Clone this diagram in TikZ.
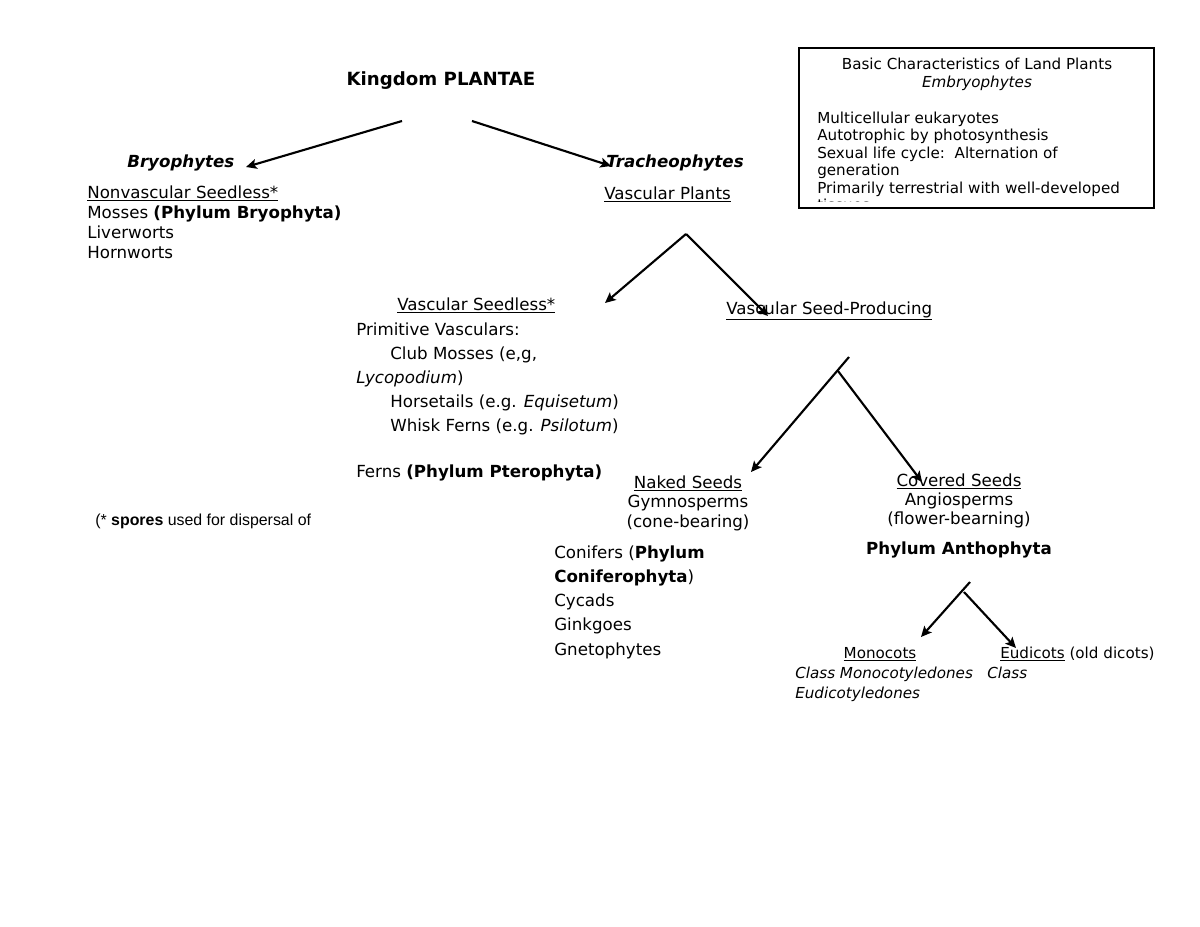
\documentclass[tikz,border=0pt]{standalone}
\usepackage{fontspec}
\setmainfont{DejaVu Sans}
\newfontfamily\notefont{Liberation Sans}
\usetikzlibrary{arrows.meta}

\begin{document}
\begin{tikzpicture}[x=0.66pt, y=-0.66pt,
  txt/.style={anchor=mid west, inner sep=0pt, yshift=-1.3pt, font=\fontsize{11}{13}\selectfont},
  ctxt/.style={anchor=mid, inner sep=0pt, yshift=-1.3pt, font=\fontsize{11}{13}\selectfont},
  small/.style={anchor=mid west, inner sep=0pt, yshift=-1.3pt, font=\fontsize{10}{12}\selectfont},
  csmall/.style={anchor=mid, inner sep=0pt, yshift=-1.3pt, font=\fontsize{10}{12}\selectfont},
  branch/.style={line width=1.4pt, -{Stealth[length=7pt, width=6.5pt, inset=1.5pt]}}]
  \useasboundingbox (0,0) rectangle (1200,927);

  % Kingdom and first split
  \node[ctxt, font=\fontsize{12}{14}\selectfont\bfseries] (kingdom) at (441,79) {Kingdom PLANTAE};
  \node[txt, font=\fontsize{11}{13}\selectfont\bfseries\itshape] (bryo) at (127,161) {Bryophytes};
  \node[txt, font=\fontsize{11}{13}\selectfont\bfseries\itshape] (trach) at (606,161) {Tracheophytes};
  \coordinate (kL) at (402,121);
  \coordinate (kR) at (472,121);
  \coordinate (bryoTip) at (246,167);
  \coordinate (trachTip) at (611,166);
  \draw[branch] (kL) -- (bryoTip);
  \draw[branch] (kR) -- (trachTip);

  % Bryophytes
  \node[txt] (nonvasc) at (87,192) {\underline{Nonvascular Seedless*}};
  \node[txt] (mosses) at (87,212) {Mosses \textbf{(Phylum Bryophyta)}};
  \node[txt] (liver) at (87,232) {Liverworts};
  \node[txt] (horn) at (87,252) {Hornworts};

  % Tracheophytes
  \node[txt] (vascPl) at (604,193) {\underline{Vascular Plants}};
  \coordinate (vSplit) at (686,234);
  \coordinate (seedlessTip) at (605,303);
  \coordinate (seedTip) at (768,316);
  \draw[branch] (vSplit) -- (seedlessTip);
  \draw[branch] (vSplit) -- (seedTip);

  % Vascular seedless
  \node[txt] (vSeedless) at (397,304) {\underline{Vascular Seedless*}};
  \node[txt] (primitive) at (356,329) {Primitive Vasculars:};
  \node[txt] (club) at (390,353) {Club Mosses (e,g,};
  \node[txt] (lyco) at (356,377) {\textit{Lycopodium})};
  \node[txt] (horse) at (390,401) {Horsetails (e.g. \textit{Equisetum})};
  \node[txt] (whisk) at (390,425) {Whisk Ferns (e.g. \textit{Psilotum})};
  \node[txt] (ferns) at (356,471) {Ferns \textbf{(Phylum Pterophyta)}};

  % Vascular seed-producing
  \node[txt] (vSeed) at (726,308) {\underline{Vascular Seed-Producing}};
  \coordinate (sTop) at (849,357);
  \coordinate (sSplit) at (838,371);
  \coordinate (nakedTip) at (751,472);
  \coordinate (coveredTip) at (922,482);
  \draw[branch] (sTop) -- (nakedTip);
  \draw[branch] (sSplit) -- (coveredTip);

  % Naked seeds
  \node[ctxt] (naked) at (688,482) {\underline{Naked Seeds}};
  \node[ctxt] (gymno) at (688,501) {Gymnosperms};
  \node[ctxt] (cone) at (688,521) {(cone-bearing)};
  \node[txt] (conif) at (554,552) {Conifers (\textbf{Phylum}};
  \node[txt] (conif2) at (554,576) {\textbf{Coniferophyta})};
  \node[txt] (cycad) at (554,600) {Cycads};
  \node[txt] (ginkgo) at (554,624) {Ginkgoes};
  \node[txt] (gneto) at (554,649) {Gnetophytes};

  % Covered seeds
  \node[ctxt] (covered) at (959,480) {\underline{Covered Seeds}};
  \node[ctxt] (angio) at (959,499) {Angiosperms};
  \node[ctxt] (flower) at (959,518) {(flower-bearning)};
  \node[ctxt, font=\fontsize{11}{13}\selectfont\bfseries] (antho) at (959,548) {Phylum Anthophyta};
  \coordinate (aTop) at (970,582);
  \coordinate (aSplit) at (964,592);
  \coordinate (monoTip) at (921,637);
  \coordinate (eudiTip) at (1016,648);
  \draw[branch] (aTop) -- (monoTip);
  \draw[branch] (aSplit) -- (eudiTip);

  % Monocots and eudicots
  \node[csmall] (mono) at (880,652) {\underline{Monocots}};
  \node[small] (eudi) at (1000,652) {\underline{Eudicots} (old dicots)};
  \node[small, font=\fontsize{10}{12}\selectfont\itshape] (monoCls) at (795,672) {Class Monocotyledones};
  \node[small, font=\fontsize{10}{12}\selectfont\itshape] (eudiCls) at (987,672) {Class};
  \node[small, font=\fontsize{10}{12}\selectfont\itshape] (eudiCls2) at (795,692) {Eudicotyledones};

  % Footnote
  \node[small, font=\notefont\fontsize{10.5}{12}\selectfont] (note) at (95,519) {(* \textbf{spores} used for dispersal of};

  % Characteristics box
  \begin{scope}
    \clip (799,48) rectangle (1154,201);
    \node[csmall] (charTitle) at (977,63) {Basic Characteristics of Land Plants};
    \node[csmall, font=\fontsize{10}{12}\selectfont\itshape] (embryo) at (977,81) {Embryophytes};
    \foreach \line [count=\i from 0] in {Multicellular eukaryotes, Autotrophic by photosynthesis,
        {Sexual life cycle:\ \ Alternation of}, generation, Primarily terrestrial with well-developed, tissues}
      \node[small] (char\i) at (817,117+17.5*\i) {\line};
  \end{scope}
  \draw[line width=1.3pt] (799,48) rectangle (1154,208);
\end{tikzpicture}
\end{document}
